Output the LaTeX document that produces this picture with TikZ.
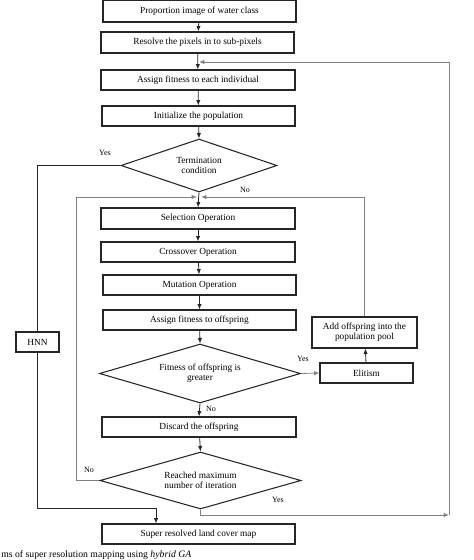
\documentclass[tikz,border=0pt]{standalone}
\usepackage{fontspec}
\setmainfont{Liberation Serif}
\usetikzlibrary{shapes.geometric,arrows.meta}
\begin{document}
\begin{tikzpicture}[x=0.75pt,y=-0.75pt,
  every node/.style={font=\fontsize{7}{7.8}\selectfont},
  stepbox/.style={draw=black!85,line width=0.8pt,rectangle,inner sep=0pt,align=center},
  decision/.style={draw=black!85,line width=0.8pt,diamond,inner sep=0pt},
  dtext/.style={inner sep=0pt,align=center},
  arr/.style={draw=black!85,line width=0.6pt,-{Latex[length=4pt,width=3.2pt]}},
  ln/.style={draw=black!85,line width=0.6pt},
  garr/.style={draw=black!50,line width=0.6pt,-{Latex[length=4pt,width=3.2pt]}},
  gln/.style={draw=black!50,line width=0.6pt},
  lab/.style={font=\fontsize{6}{7}\selectfont,inner sep=0pt}]
\useasboundingbox (0,0) rectangle (474,560);

% boxes
\node[stepbox,minimum width=144.75pt,minimum height=16.5pt] (p1) at (199.5,11) {Proportion image of water class};
\node[stepbox,minimum width=144.75pt,minimum height=15.75pt] (p2) at (197.5,42.5) {Resolve the pixels in to sub-pixels};
\node[stepbox,minimum width=145.5pt,minimum height=15pt] (p3) at (198,80) {Assign fitness to each individual};
\node[stepbox,minimum width=144.75pt,minimum height=15pt] (p4) at (198.5,116) {Initialize the population};
\node[decision,minimum width=117pt,minimum height=39.75pt] (d1) at (199,165.5) {};
\node[dtext] (d1t) at (d1.center) {Termination\\condition};
\node[stepbox,minimum width=145.5pt,minimum height=15.75pt] (sel) at (198,218.5) {Selection Operation};
\node[stepbox,minimum width=145.5pt,minimum height=15pt] (cro) at (198,252) {Crossover Operation};
\node[stepbox,minimum width=144.75pt,minimum height=15pt] (mut) at (199.5,285) {Mutation Operation};
\node[stepbox,minimum width=144.75pt,minimum height=15pt] (asg) at (199.5,320) {Assign fitness to offspring};
\node[decision,minimum width=150.75pt,minimum height=44.25pt] (d2) at (200,373.5) {};
\node[dtext] (d2t) at (d2.center) {Fitness of offspring is\\greater};
\node[stepbox,minimum width=69.75pt,minimum height=15pt] (eli) at (366.5,373) {Elitism};
\node[stepbox,minimum width=78.75pt,minimum height=23.25pt] (add) at (364.5,332.5) {Add offspring into the\\population pool};
\node[stepbox,minimum width=145.5pt,minimum height=15pt] (dis) at (199,427) {Discard the offspring};
\node[decision,minimum width=150.75pt,minimum height=42.75pt] (d3) at (200.5,480.5) {};
\node[dtext] (d3t) at (d3.center) {Reached maximum\\number of iteration};
\node[stepbox,minimum width=32.25pt,minimum height=15pt] (hnn) at (37.5,342) {HNN};
\node[stepbox,minimum width=144.75pt,minimum height=15pt] (fin) at (198.5,534) {Super resolved land cover map};

% coordinates
\coordinate (j1) at (199,62);
\coordinate (j2L) at (197,197);
\coordinate (j2R) at (201,197);
\coordinate (yesEnd) at (449,515);
\coordinate (hcor) at (156,508);

% main flow
\draw[arr] (p1) -- (p2);
\draw[arr] (p2) -- (p3);
\draw[arr] (p3) -- (p4);
\draw[arr] (p4) -- (d1.north);
\draw[arr] (d1.south) -- (sel.north);
\draw[arr] (sel) -- (cro);
\draw[arr] (cro) -- (mut);
\draw[arr] (mut) -- (asg);
\draw[arr] (asg) -- (d2.north);
\draw[arr] (d2.south) -- (dis.north);
\draw[arr] (dis) -- (d3.north);
\draw[garr] (d2.east) -- (eli.west);
\draw[arr] (eli) -- (add);

% termination yes branch
\draw[ln] (d1.west) -| (hnn.north);
\draw[arr] (hnn.south) |- (hcor) -- (hcor |- fin.north);

% inner loops
\draw[garr] (d3.west) -| (76,197) -- (j2L);
\draw[garr] (add.north) |- (j2R);

% outer loop
\draw[garr] (d3.south) |- (yesEnd);
\draw[garr] (yesEnd) -- (yesEnd |- j1) -- (j1);

% labels
\node[lab] (lyes1) at (105,153) {Yes};
\node[lab] (lno1) at (245,190) {No};
\node[lab] (lyes2) at (303,359) {Yes};
\node[lab] (lno2) at (211,409) {No};
\node[lab] (lno3) at (89,470) {No};
\node[lab] (lyes3) at (278,500) {Yes};

% caption
\node[anchor=base west,inner sep=0pt,font=\fontsize{7.3}{8}\selectfont] (cap) at (1,557) {ms of super resolution mapping using \textit{hybrid GA}};
\end{tikzpicture}
\end{document}
